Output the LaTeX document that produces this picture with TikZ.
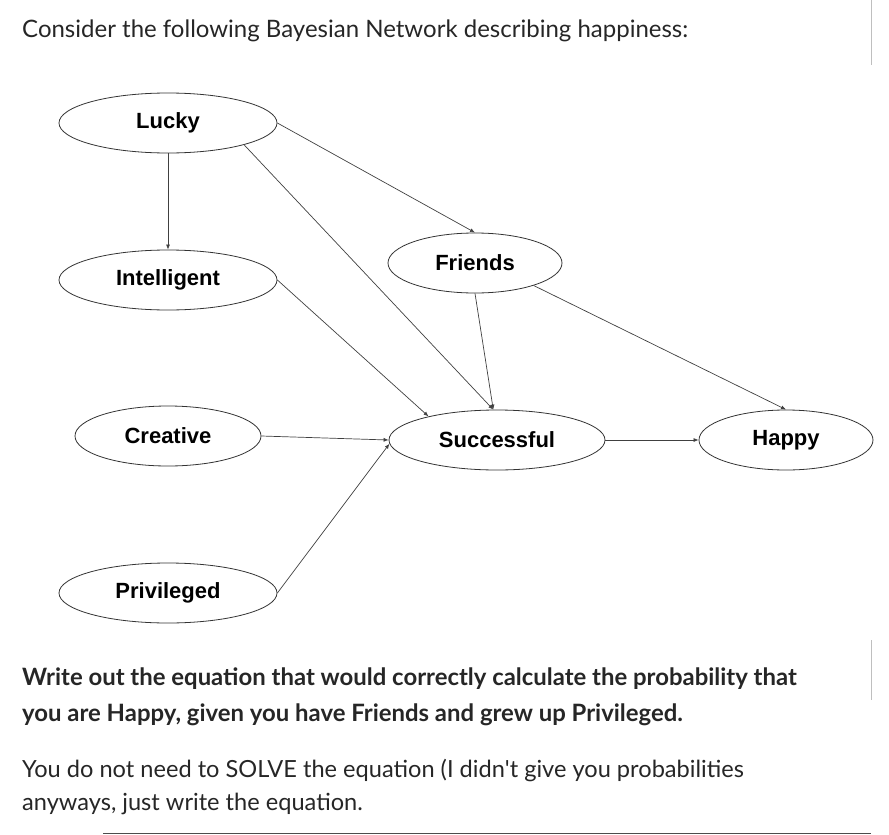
\documentclass[tikz,border=0pt]{standalone}
\usepackage{fontspec}
\setmainfont{Lato}
\newfontfamily\arialf{Liberation Sans}
\usetikzlibrary{shapes.geometric,arrows.meta}
\begin{document}
\begin{tikzpicture}[x=1pt,y=-1pt,
  bn/.style={ellipse,draw=black!80,line width=0.8pt,inner sep=0pt,font=\arialf\bfseries\fontsize{22}{24}\selectfont},
  edge/.style={draw=black!75,line width=0.7pt,-{Latex[length=5pt,width=4pt]}},
  txt/.style={anchor=west,inner sep=0pt,text=black!85}]
\useasboundingbox (0,0) rectangle (889,835);
\draw[black!25,line width=0.8pt] (871,0) -- (871,65);
\draw[black!25,line width=0.8pt] (871,640) -- (871,700);
\draw[black!70,line width=0.8pt] (103,833) -- (871,833);
\node[txt,font=\fontsize{24}{28}\selectfont] (t0) at (22,31) {Consider the following Bayesian Network describing happiness:};
\node[bn,minimum width=218pt,minimum height=60pt] (lucky) at (168,123) {Lucky};
\node[bn,minimum width=218pt,minimum height=60pt] (intel) at (168,280) {Intelligent};
\node[bn,minimum width=186pt,minimum height=60pt] (creat) at (168,436) {Creative};
\node[bn,minimum width=218pt,minimum height=60pt] (priv) at (168,593) {Privileged};
\node[bn,minimum width=174pt,minimum height=60pt] (friends) at (475,263) {Friends};
\node[bn,minimum width=216pt,minimum height=60pt] (succ) at (497,440) {Successful};
\node[bn,minimum width=174pt,minimum height=60pt] (happy) at (786,440) {Happy};
\draw[edge] (lucky.south) -- (intel.north);
\draw[edge] (lucky.east) -- (friends.north);
\draw[edge] (lucky.-16) -- (succ.97);
\draw[edge] (intel.east) -- (succ.161);
\draw[edge] (friends.south) -- (succ.97);
\draw[edge] (friends.-21) -- (happy.north);
\draw[edge] (creat.east) -- (succ.west);
\draw[edge] (priv.east) -- (succ.182);
\draw[edge] (succ.east) -- (happy.west);
\node[txt,font=\bfseries\fontsize{23.9}{28}\selectfont] (q1) at (22,679) {Write out the equation that would correctly calculate the probability that};
\node[txt,font=\bfseries\fontsize{23.9}{28}\selectfont] (q2) at (22,715) {you are Happy, given you have Friends and grew up Privileged.};
\node[txt,font=\fontsize{23.6}{28}\selectfont] (n1) at (22,770) {You do not need to SOLVE the equation (I didn\textquotesingle t give you probabilities};
\node[txt,font=\fontsize{23.6}{28}\selectfont] (n2) at (22,804) {anyways, just write the equation.};
\end{tikzpicture}
\end{document}
